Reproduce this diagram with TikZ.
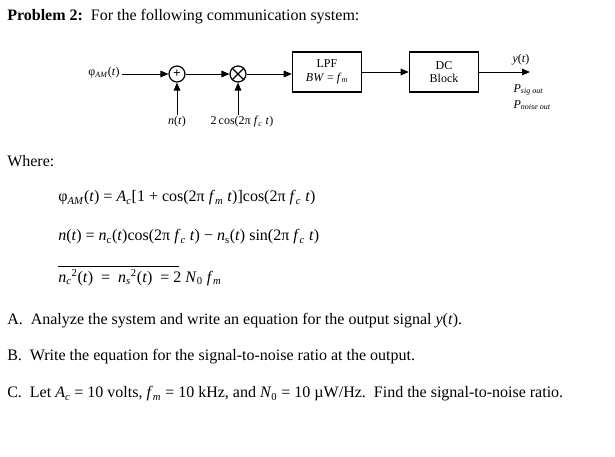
\documentclass[tikz,border=0pt]{standalone}
\usepackage{fontspec}
\setmainfont{Liberation Serif}
\usetikzlibrary{arrows.meta}
\newcommand{\iv}[1]{\textit{#1}}
\newcommand{\sbs}[1]{\textsubscript{#1}}
\newcommand{\sps}[1]{\textsuperscript{#1}}
\begin{document}
\begin{tikzpicture}[x=0.75pt,y=-0.75pt,
  blk/.style={draw,line width=0.9pt,minimum width=52pt,minimum height=30pt,align=center,font=\fontsize{9}{10}\selectfont},
  op/.style={draw,circle,line width=0.9pt,minimum size=12pt,inner sep=0pt},
  sig/.style={-{Triangle[length=6pt,width=5pt]},line width=0.6pt},
  lbl/.style={font=\fontsize{9}{10}\selectfont,inner sep=1pt},
  txt/.style={anchor=west,inner sep=0pt,font=\fontsize{12}{14}\selectfont}]
\useasboundingbox (0,0) rectangle (615,457);
\node[txt] (title) at (7,17) {\textbf{Problem 2:}\ \ For the following communication system:};
\node[lbl] (in) at (104,73) {φ\sbs{\iv{AM}}(\iv{t})};
\coordinate (ins) at (122,74);
\node[op] (sum) at (177,74) {\textbf{+}};
\node[op] (mul) at (238,74) {};
\draw[line width=0.9pt] (mul.north west)--(mul.south east) (mul.north east)--(mul.south west);
\node[blk] (lpf) at (327,72) {LPF\\ \iv{BW} = \iv{f}\sbs{\iv{m}}};
\node[blk] (dc) at (444,72) {DC\\ Block};
\coordinate (out) at (530,72);
\node[lbl] (y) at (521,60) {\iv{y}(\iv{t})};
\node[lbl,anchor=west] (ps) at (512,90) {\iv{P}\sbs{\iv{sig out}}};
\node[lbl,anchor=west] (pn) at (512,105) {\iv{P}\sbs{\iv{noise out}}};
\node[lbl] (n) at (177,122) {\iv{n}(\iv{t})};
\node[lbl] (c) at (242,122) {2\,cos(2π \iv{f}\sbs{\iv{c}} \iv{t})};
\draw[sig] (ins)--(sum);
\draw[sig] (sum)--(mul);
\draw[sig] (mul)--(mul-|lpf.west);
\draw[sig] (lpf)--(dc);
\draw[sig] (dc)--(out);
\draw[sig] (n.north)--(sum);
\draw[sig] (c.north-|mul)--(mul);
\node[txt] (where) at (7,161) {Where:};
\node[txt] (e1) at (58,198) {φ\sbs{\iv{AM}}(\iv{t}) = \iv{A}\sbs{\iv{c}}[1 + cos(2π \iv{f}\sbs{\iv{m}} \iv{t})]cos(2π \iv{f}\sbs{\iv{c}} \iv{t})};
\node[txt] (e2) at (58,237) {\iv{n}(\iv{t}) = \iv{n}\sbs{c}(\iv{t})cos(2π \iv{f}\sbs{\iv{c}} \iv{t}) − \iv{n}\sbs{s}(\iv{t}) sin(2π \iv{f}\sbs{\iv{c}} \iv{t})};
\node[txt] (e3) at (58,276) {\rlap{\rule[11.5pt]{46pt}{0.5pt}}\iv{n}\sbs{\iv{c}}\sps{2}(\iv{t})\ \ =\ \ \rlap{\rule[11.5pt]{46pt}{0.5pt}}\iv{n}\sbs{\iv{s}}\sps{2}(\iv{t})\ \ = 2 \iv{N}\sbs{0} \iv{f}\sbs{\iv{m}}};
\node[txt] (a) at (7,321) {A.\ \ Analyze the system and write an equation for the output signal \iv{y}(\iv{t}).};
\node[txt] (b) at (7,357) {B.\ \ Write the equation for the signal-to-noise ratio at the output.};
\node[txt] (cc) at (7,394) {C.\ \ Let \iv{A}\sbs{\iv{c}} = 10 volts, \iv{f}\sbs{\iv{m}} = 10 kHz, and \iv{N}\sbs{0} = 10 µW/Hz.\ \ Find the signal-to-noise ratio.};
\end{tikzpicture}
\end{document}
